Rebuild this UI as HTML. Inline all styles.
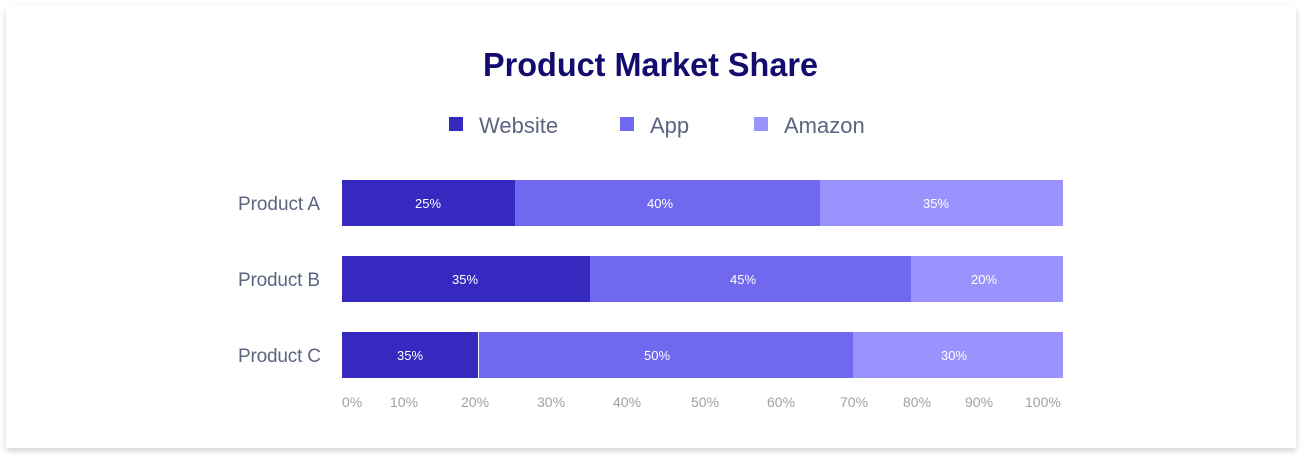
<!DOCTYPE html>
<html><head><style>
body{margin:0;width:1310px;height:464px;background:#fff;font-family:"Liberation Sans",sans-serif;}
.card{position:absolute;left:6px;top:6px;width:1290px;height:442px;background:#fff;box-shadow:0 3px 6px rgba(0,0,0,0.18);}
</style></head><body>
<div class="card"></div>
<svg width="1310" height="464" style="position:absolute;left:0;top:0" font-family="Liberation Sans, sans-serif">
<text x="483" y="76" font-size="33" font-weight="bold" fill="#130c6e" textLength="335" lengthAdjust="spacingAndGlyphs">Product Market Share</text>
<rect x="449" y="117" width="14" height="14" fill="#3529c0"/>
<text x="479" y="133" font-size="22" fill="#5b6580">Website</text>
<rect x="620" y="117" width="14" height="14" fill="#7069ef"/>
<text x="650" y="133" font-size="22" fill="#5b6580">App</text>
<rect x="754" y="117" width="14" height="14" fill="#9b93fd"/>
<text x="784" y="133" font-size="22" fill="#5b6580">Amazon</text>
<g font-size="19" fill="#5b6580">
<text x="238" y="210" textLength="82">Product A</text>
<text x="238" y="286" textLength="82">Product B</text>
<text x="238" y="362" textLength="83">Product C</text>
</g>
<rect x="342" y="180" width="173" height="46" fill="#3529c0"/>
<rect x="515" y="180" width="305" height="46" fill="#7069ef"/>
<rect x="820" y="180" width="243" height="46" fill="#9b93fd"/>
<rect x="342" y="256" width="248" height="46" fill="#3529c0"/>
<rect x="590" y="256" width="321" height="46" fill="#7069ef"/>
<rect x="911" y="256" width="152" height="46" fill="#9b93fd"/>
<rect x="342" y="332" width="136" height="46" fill="#3529c0"/>
<rect x="479" y="332" width="374" height="46" fill="#7069ef"/>
<rect x="853" y="332" width="210" height="46" fill="#9b93fd"/>
<g font-size="13" fill="#fff" text-anchor="middle">
<text x="428" y="208">25%</text><text x="660" y="208">40%</text><text x="936" y="208">35%</text>
<text x="465" y="284">35%</text><text x="743" y="284">45%</text><text x="984" y="284">20%</text>
<text x="410" y="360">35%</text><text x="657" y="360">50%</text><text x="954" y="360">30%</text>
</g>
<g font-size="14" fill="#a0a0a0">
<text x="342" y="407">0%</text><text x="390" y="407">10%</text><text x="461" y="407">20%</text>
<text x="537" y="407">30%</text><text x="613" y="407">40%</text><text x="691" y="407">50%</text>
<text x="767" y="407">60%</text><text x="840" y="407">70%</text><text x="903" y="407">80%</text>
<text x="965" y="407">90%</text><text x="1025" y="407">100%</text>
</g>
</svg>
</body></html>
